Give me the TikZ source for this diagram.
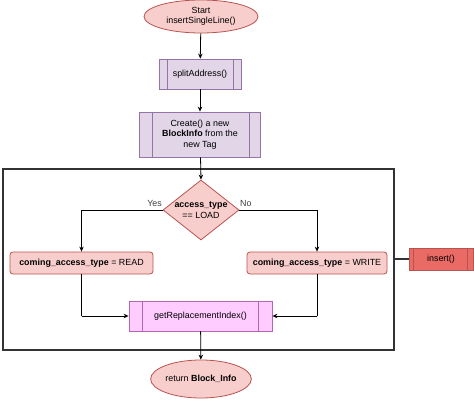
\documentclass[tikz,border=0pt]{standalone}
\usepackage{fontspec}
\setmainfont{Liberation Sans}
\usetikzlibrary{shapes.geometric,arrows.meta}
\definecolor{redfill}{HTML}{F8CECC}
\definecolor{redline}{HTML}{B85450}
\definecolor{purpfill}{HTML}{E1D5E7}
\definecolor{purpline}{HTML}{9673A6}
\definecolor{pinkfill}{HTML}{FFCCFF}
\definecolor{pinkline}{HTML}{B266B2}
\definecolor{insfill}{HTML}{EA6B66}
\tikzset{
  every node/.style={font=\fontsize{8.9}{10.5}\selectfont, inner sep=0pt},
  term/.style={ellipse, draw=redline, fill=redfill, line width=0.8pt},
  procbox/.style={draw=#1line, fill=#1fill, line width=0.8pt, align=center},
  decis/.style={diamond, draw=redline, fill=redfill, line width=0.8pt, align=center},
  stateb/.style={draw=redline, fill=redfill, rounded corners=3pt, line width=0.8pt},
  conn/.style={line width=0.8pt, -{Stealth[length=5pt,width=4.5pt]}},
  plainconn/.style={line width=0.8pt},
  lbl/.style={font=\fontsize{8.9}{10.5}\selectfont, text=black!75},
}
\begin{document}
\begin{tikzpicture}[x=1pt,y=-1pt]
\useasboundingbox (0,0) rectangle (474,401);
% outer frame
\node[draw=black!80, line width=1.8pt, minimum width=391pt, minimum height=181pt, anchor=north west] (frame) at (2,168) {};
% start
\node[term, minimum width=114pt, minimum height=33pt, align=center] (start) at (201,16.5) {Start\\insertSingleLine()};
% splitAddress
\node[procbox=purp, minimum width=82pt, minimum height=30pt] (split) at (200,74) {splitAddress()};
\draw[purpline, line width=0.6pt] ([xshift=9pt]split.north west) -- ([xshift=9pt]split.south west)
  ([xshift=-8pt]split.north east) -- ([xshift=-8pt]split.south east);
% create
\node[procbox=purp, minimum width=121pt, minimum height=45pt] (create) at (200,134.5) {Create() a new\\\textbf{BlockInfo} from the\\new Tag};
\draw[purpline, line width=0.6pt] ([xshift=13pt]create.north west) -- ([xshift=13pt]create.south west)
  ([xshift=-12pt]create.north east) -- ([xshift=-12pt]create.south east);
% decision
\node[decis, minimum width=76pt, minimum height=60pt, inner sep=0pt] (dec) at (201,210) {};
\node at (dec.center) [align=center] (dectext) {\textbf{access\_type}\\== LOAD};
% read / write
\node[stateb, minimum width=143pt, minimum height=22pt] (read) at (81.5,263) {\textbf{coming\_access\_type} = READ};
\node[stateb, minimum width=140pt, minimum height=22pt] (write) at (317,263) {\textbf{coming\_access\_type} = WRITE};
% getReplacementIndex
\node[procbox=pink, minimum width=143pt, minimum height=30pt] (gri) at (200.5,316) {getReplacementIndex()};
\draw[pinkline, line width=0.6pt] ([xshift=14pt]gri.north west) -- ([xshift=14pt]gri.south west)
  ([xshift=-14pt]gri.north east) -- ([xshift=-14pt]gri.south east);
% return
\node[term, minimum width=82pt, minimum height=38pt] (ret) at (201,379) {return \textbf{Block\_Info}};
% insert
\node[draw=redline, fill=insfill, line width=0.8pt, minimum width=64pt, minimum height=22pt] (ins) at (441,259) {insert()};
\draw[redline, line width=0.6pt] ([xshift=5pt]ins.north west) -- ([xshift=5pt]ins.south west)
  ([xshift=-6pt]ins.north east) -- ([xshift=-6pt]ins.south east);
% connectors
\draw[conn] (start) -- (split);
\draw[conn] (split) -- (create);
\draw[conn] (create) -- (dec.north);
\draw[conn] (dec.west) -| (read.north);
\draw[conn] (dec.east) -| (write.north);
\node[lbl, anchor=south east] (yes) at (162,207) {Yes};
\node[lbl, anchor=south west] (no) at (240,207) {No};
\coordinate (rc) at (read.south |- gri.west);
\coordinate (wc) at (write.south |- gri.east);
\draw[plainconn] (read.south) -- (rc);
\draw[conn] (rc) -- (gri.west);
\draw[plainconn] (write.south) -- (wc);
\draw[conn] (wc) -- (gri.east);
\draw[conn] (gri) -- (ret);
\draw[line width=1.2pt, black!80] (frame.east |- ins.west) -- (ins.west);
\end{tikzpicture}
\end{document}
